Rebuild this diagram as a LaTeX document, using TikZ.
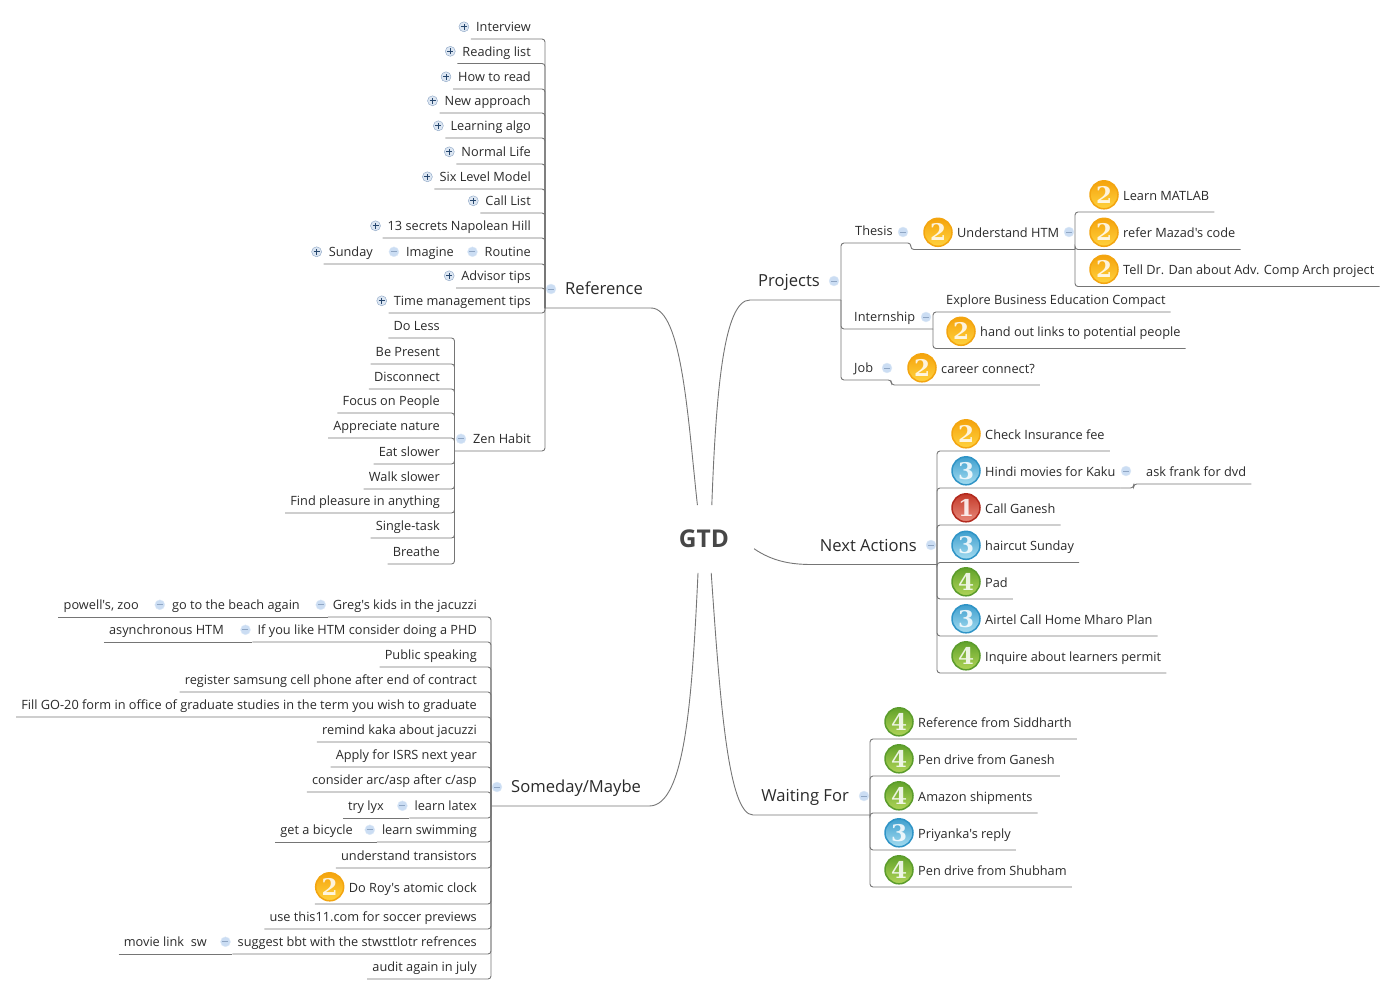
\documentclass[tikz,border=0pt]{standalone}
\usepackage{fontspec}
\usepackage{xcolor}
\setmainfont[Ligatures=TeXOff]{Open Sans}
\newfontfamily\numfont{DejaVu Serif}
\usetikzlibrary{shapes.geometric,calc}
\definecolor{linkgray}{HTML}{757575}
\definecolor{inkgray}{HTML}{2A2A2A}
\definecolor{minusfill}{HTML}{CBDDF3}
\definecolor{minusbar}{HTML}{8FA6C4}
\definecolor{plusfill}{HTML}{DCE6F2}
\definecolor{plusring}{HTML}{8AA4C4}
\definecolor{plusbar}{HTML}{27476E}
\definecolor{redtop}{HTML}{C43A2A}
\definecolor{redlow}{HTML}{E8897A}
\definecolor{redring}{HTML}{B22A1E}
\definecolor{goldtop}{HTML}{F5A30C}
\definecolor{goldlow}{HTML}{FFD23E}
\definecolor{goldring}{HTML}{F3A510}
\definecolor{bluetop}{HTML}{3F9FCE}
\definecolor{bluelow}{HTML}{A4DCF0}
\definecolor{bluering}{HTML}{2F94C6}
\definecolor{greentop}{HTML}{62A22A}
\definecolor{greenlow}{HTML}{AFD457}
\definecolor{greenring}{HTML}{5B9C2C}
\tikzset{
    link/.style={draw=linkgray, line width=0.9pt, rounded corners=3pt},
    topic/.style={font=\fontsize{12.75}{15}\selectfont, text=inkgray, text height=13pt, text depth=3pt, inner xsep=5pt, inner ysep=4pt},
    talltopic/.style={topic, text height=14pt, inner ysep=8.5pt},
    main/.style={font=\fontsize{16.6}{19}\selectfont, text=inkgray, text height=13pt, text depth=4pt, inner xsep=5pt, inner ysep=9pt},
    minusbox/.style={circle, minimum size=10pt, inner sep=0pt, fill=minusfill, draw=minusfill!60,
        path picture={\draw[minusbar, line width=0.8pt] ([xshift=-3pt]path picture bounding box.center) -- ([xshift=3pt]path picture bounding box.center);}},
    plusbox/.style={circle, minimum size=10pt, inner sep=0pt, fill=plusfill, draw=plusring,
        path picture={\draw[plusbar, line width=0.7pt] ([xshift=-3pt]path picture bounding box.center) -- ([xshift=3pt]path picture bounding box.center);
            \draw[plusbar, line width=0.7pt] ([yshift=-3pt]path picture bounding box.center) -- ([yshift=3pt]path picture bounding box.center);}},
    prio/.style={circle, minimum size=28pt, inner sep=0pt, line width=1.5pt, text=white, text opacity=0.85, font=\numfont\bfseries\fontsize{23}{23}\selectfont},
    prio1/.style={prio, top color=redtop, bottom color=redlow, draw=redring},
    prio2/.style={prio, top color=goldtop, bottom color=goldlow, draw=goldring},
    prio3/.style={prio, top color=bluetop, bottom color=bluelow, draw=bluering},
    prio4/.style={prio, top color=greentop, bottom color=greenlow, draw=greenring}
}
\begin{document}
\begin{tikzpicture}[x=1pt, y=-1pt]
    \useasboundingbox (0,0) rectangle (1397,995);
    \node[ellipse, minimum width=104pt, minimum height=68pt, inner sep=0pt, font=\bfseries\fontsize{24.5}{26}\selectfont, text=black!72] (gtd) at (704,539) {GTD};

    % Reference
    \coordinate (refhub) at (545,308);
    \node[main, anchor=south west] (reference) at (560,308) {Reference};
    \node[minusbox] (referencex) at (551,289) {};
    \draw[link] (refhub) -- (reference.south east) .. controls (682,308) and (688,420) .. (gtd.101);
    \foreach \nm/\txt/\uy in {interview/Interview/39, readinglist/Reading list/63.5, howtoread/How to read/89, newapproach/New approach/113,
        learningalgo/Learning algo/138, normallife/Normal Life/164, sixlevel/Six Level Model/189, calllist/Call List/213,
        secrets/13 secrets Napolean Hill/238, advisor/Advisor tips/288, timemgmt/Time management tips/313} {
        \node[topic, anchor=south east] (\nm) at (536,\uy) {\txt};
        \node[plusbox] (\nm x) at ([xshift=-7pt]\nm.west) {};
        \draw[link] (\nm.south west) -- (\nm.south east) -| (refhub);
    }
    % Routine chain
    \node[topic, anchor=south east] (routine) at (536,264) {Routine};
    \node[minusbox] (routinex) at ([xshift=-7pt]routine.west) {};
    \node[topic, anchor=south east] (imagine) at (459,264) {Imagine};
    \node[minusbox] (imaginex) at ([xshift=-7pt]imagine.west) {};
    \node[topic, anchor=south east] (sunday) at (378,264) {Sunday};
    \node[plusbox] (sundayx) at ([xshift=-7pt]sunday.west) {};
    \draw[link] (sunday.south west) -- (routine.south east) -| (refhub);
    % Zen Habit
    \coordinate (zenhub) at (454.5,451);
    \node[topic, anchor=south east] (zenhabit) at (536,451) {Zen Habit};
    \node[minusbox] (zenhabitx) at ([xshift=-7pt]zenhabit.west) {};
    \draw[link] (zenhub) -- (zenhabit.south east) -| (refhub);
    \foreach \nm/\txt/\uy in {doless/Do Less/338, bepresent/Be Present/364, disconnect/Disconnect/389, focus/Focus on People/413,
        appreciate/Appreciate nature/438, eatslower/Eat slower/464, walkslower/Walk slower/489, pleasure/Find pleasure in anything/513,
        singletask/Single-task/538, breathe/Breathe/564} {
        \node[topic, anchor=south east] (\nm) at (445,\uy) {\txt};
        \draw[link] (\nm.south west) -- (\nm.south east) -| (zenhub);
    }

    % Someday/Maybe
    \coordinate (somehub) at (491,806);
    \node[main, anchor=south west] (someday) at (506,806) {Someday/Maybe};
    \node[minusbox] (somedayx) at (497,787) {};
    \draw[link] (somehub) -- (someday.south east) .. controls (685,806) and (692,700) .. (gtd.-100);
    \foreach \nm/\txt/\uy in {gregs/Greg's kids in the jacuzzi/617, likehtm/If you like HTM consider doing a PHD/642, publicspeak/Public speaking/667,
        samsung/register samsung cell phone after end of contract/692, goform/Fill GO-20 form in office of graduate studies in the term you wish to graduate/717,
        kaka/remind kaka about jacuzzi/742, isrs/Apply for ISRS next year/767, {arcasp}/{consider arc/asp after c/asp}/792,
        latex/learn latex/818, swimming/learn swimming/842, transistors/understand transistors/868, useeleven/use this11.com for soccer previews/929,
        bbt/suggest bbt with the stwsttlotr refrences/954, auditjuly/audit again in july/979} {
        \node[topic, anchor=south east] (\nm) at (482,\uy) {\txt};
        \draw[link] (\nm.south west) -- (\nm.south east) -| (somehub);
    }
    \node[talltopic, anchor=south east] (royclock) at (482,904) {Do Roy's atomic clock};
    \node[prio2] (royclockm) at ([xshift=-14pt]royclock.west) {2};
    \draw[link] (royclockm.west |- royclock.south) -- (royclock.south east) -| (somehub);
    % side branches, left of the underlined text
    \node[minusbox] (gregsx) at ([xshift=-7pt]gregs.west) {};
    \node[topic, anchor=south east] (beach) at (305,617) {go to the beach again};
    \node[minusbox] (beachx) at ([xshift=-7pt]beach.west) {};
    \node[topic, anchor=south east] (powells) at (144,617) {powell's, zoo};
    \draw[link] (powells.south west) -- (gregs.south west);
    \node[minusbox] (likehtmx) at ([xshift=-7pt]likehtm.west) {};
    \node[topic, anchor=south east] (asynchtm) at (229,642) {asynchronous HTM};
    \draw[link] (asynchtm.south west) -- (likehtm.south west);
    \node[minusbox] (latexx) at ([xshift=-7pt]latex.west) {};
    \node[topic, anchor=south east] (trylyx) at (389,818) {try lyx};
    \draw[link] (trylyx.south west) -- (latex.south west);
    \node[minusbox] (swimmingx) at ([xshift=-7pt]swimming.west) {};
    \node[topic, anchor=south east] (bicycle) at (358,842) {get a bicycle};
    \draw[link] (bicycle.south west) -- (swimming.south west);
    \node[minusbox] (bbtx) at ([xshift=-7pt]bbt.west) {};
    \node[topic, anchor=south east] (movielink) at (212,954) {movie link\ \ sw};
    \draw[link] (movielink.south west) -- (bbt.south west);

    % Projects
    \coordinate (prohub) at (841,300);
    \node[main, anchor=south east] (projects) at (825,300) {Projects};
    \node[minusbox] (projectsx) at (834,281) {};
    \draw[link] (prohub) -- (projects.south west) .. controls (724,300) and (716,390) .. (gtd.77);
    \node[topic, anchor=south west] (thesis) at (850,243) {Thesis};
    \node[minusbox] (thesisx) at (903,232) {};
    \node[talltopic, anchor=south west] (understand) at (952,249.5) {Understand HTM};
    \node[prio2] (understandm) at ([xshift=-14pt]understand.west) {2};
    \node[minusbox] (understandx) at (1069,232) {};
    \draw[link] (prohub) |- (thesis.south east) -- ([xshift=13pt]thesis.south east) |- (understand.south east);
    \coordinate (htmhub) at (1075,249.5);
    \draw[link] (understand.south east) -- (htmhub);
    \foreach \nm/\txt/\uy in {matlab/Learn MATLAB/212, mazad/refer Mazad's code/249.5, drdan/Tell Dr. Dan about Adv. Comp Arch project/286.5} {
        \node[talltopic, anchor=south west] (\nm) at (1118,\uy) {\txt};
        \node[prio2] (\nm m) at ([xshift=-14pt]\nm.west) {2};
        \draw[link] (htmhub) |- (\nm.south east);
    }
    \node[topic, anchor=south west] (internship) at (849,329) {Internship};
    \node[minusbox] (internshipx) at (926,317) {};
    \coordinate (inthub) at (933,329);
    \draw[link] (prohub) |- (internship.south east) -- (inthub);
    \node[topic, anchor=south west] (explore) at (941,312) {Explore Business Education Compact};
    \node[talltopic, anchor=south west] (handout) at (975,348.5) {hand out links to potential people};
    \node[prio2] (handoutm) at ([xshift=-14pt]handout.west) {2};
    \draw[link] (inthub) |- (explore.south east);
    \draw[link] (inthub) |- (handout.south east);
    \node[topic, anchor=south west] (job) at (849,380) {Job};
    \node[minusbox] (jobx) at (887,368) {};
    \node[talltopic, anchor=south west] (career) at (936,385) {career connect?};
    \node[prio2] (careerm) at ([xshift=-14pt]career.west) {2};
    \draw[link] (prohub) |- (job.south east) -- ([xshift=13pt]job.south east) |- (career.south east);

    % Next Actions
    \coordinate (nexthub) at (937,564.5);
    \node[main, anchor=south east] (nextactions) at (922,564.5) {Next Actions};
    \node[minusbox] (nextactionsx) at (931,545) {};
    \draw[link] (nexthub) -- (nextactions.south west) .. controls (790,564.5) and (772,561) .. (gtd.-11);
    \foreach \nm/\txt/\uy/\p in {insurance/Check Insurance fee/451/2, hindi/Hindi movies for Kaku/488/3, ganesh/Call Ganesh/525/1, haircut/haircut Sunday/562.5/3,
        pad/Pad/599/4, airtel/Airtel Call Home Mharo Plan/636/3, learners/Inquire about learners permit/673/4} {
        \node[talltopic, anchor=south west] (\nm) at (980,\uy) {\txt};
        \node[prio\p] (\nm m) at ([xshift=-14pt]\nm.west) {\p};
        \draw[link] (nexthub) |- (\nm.south east);
    }
    \node[minusbox] (hindix) at (1126,471) {};
    \node[topic, anchor=south west] (frank) at (1141,484) {ask frank for dvd};
    \draw[link] (hindi.south east) -- ([xshift=13pt]hindi.south east) |- (frank.south east);

    % Waiting For
    \coordinate (waithub) at (870,815);
    \node[main, anchor=south east] (waiting) at (854,815) {Waiting For};
    \node[minusbox] (waitingx) at (864,796) {};
    \draw[link] (waithub) -- (waiting.south west) .. controls (728,815) and (720,700) .. (gtd.-78);
    \foreach \nm/\txt/\uy/\p in {siddharth/Reference from Siddharth/739/4, drivega/Pen drive from Ganesh/776/4, amazon/Amazon shipments/813/4,
        priyanka/Priyanka's reply/850/3, driveshu/Pen drive from Shubham/887/4} {
        \node[talltopic, anchor=south west] (\nm) at (913,\uy) {\txt};
        \node[prio\p] (\nm m) at ([xshift=-14pt]\nm.west) {\p};
        \draw[link] (waithub) |- (\nm.south east);
    }
\end{tikzpicture}
\end{document}
